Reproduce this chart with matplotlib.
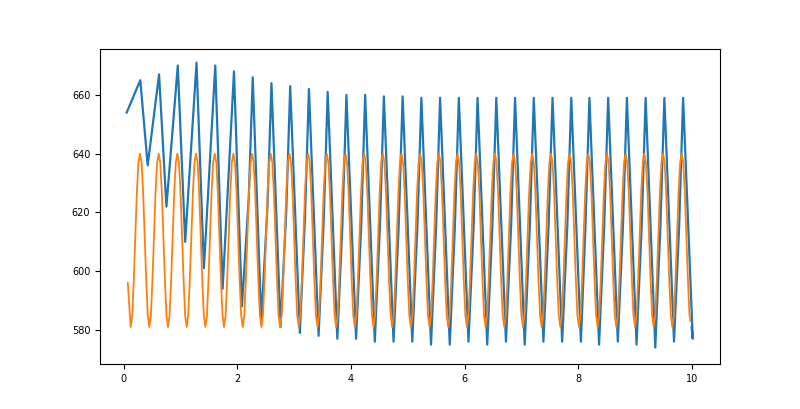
import numpy as np
import matplotlib
matplotlib.use("Agg")
import matplotlib.pyplot as plt

# per-cycle peak times
peak_t = [0.29,0.62,0.95,1.28,1.61,1.94,2.27,2.60,2.93,3.26,3.59,3.92,4.25,4.58,4.91,
          5.24,5.57,5.90,6.23,6.56,6.89,7.22,7.55,7.88,8.20,8.53,8.86,9.19,9.52,9.85]
blue_peak = [665,667,670,671,670,668,666,664,663,662,661,660,660,659.5,659.5,659,659,659,
             659,659,659,659,659,659,659,659,659,659,659,659]
blue_trough = [636,622,610,601,594,588,583,581,579,578,577,577,576,576,576,575,575,576,
               575,576,575,576,576,576,575,576,575,574,576,577]
blue_trough_dt = [0.13,0.13,0.13,0.13,0.13,0.14,0.15,0.16,0.17,0.17,0.17,0.17,0.17,0.17,0.17,
                  0.17,0.17,0.17,0.17,0.17,0.17,0.17,0.17,0.17,0.17,0.17,0.17,0.17,0.17,0.17]
# blue value on the rise shortly before each peak (None where the rise is straight)
blue_rise = [None,None,None,None,None,None,625,622,620,618,617,616,615,615,615,
             615,615,615,615,615,615,615,615,615,615,615,615,615,615,615]
blue_start = (0.05, 654)
blue_end = (10.0, 581)

orange_cycle = [581,585,597,612,627,637,640,637,627,612,597,585]
orange_start = (0.07, 596)
orange_first_trough = 0.12
orange_period = 0.329
orange_end = (9.98, 583)

bt = [blue_start[0]]; bv = [blue_start[1]]
for p, pv, rv, tv, dt in zip(peak_t, blue_peak, blue_rise, blue_trough, blue_trough_dt):
    if rv is not None:
        bt.append(p - 0.07); bv.append(rv)
    bt += [p, p + dt]; bv += [pv, tv]
bt.append(blue_end[0]); bv.append(blue_end[1])

ov = [orange_start[1]]
ot = [orange_start[0]]
n = len(orange_cycle)
for k in range(len(peak_t)):
    for j, v in enumerate(orange_cycle):
        ot.append(orange_first_trough + orange_period * (k + j / n)); ov.append(v)
ot.append(orange_end[0]); ov.append(orange_end[1])

fig, ax = plt.subplots(figsize=(8, 4.09), dpi=100)
ax.plot(bt, bv, color="#1f77b4", lw=1.6)
ax.plot(ot, ov, color="#ff7f0e", lw=1.3)
ax.set_xlim(-0.42, 10.5)
ax.set_ylim(568.4, 675.6)
ax.set_xticks([0, 2, 4, 6, 8, 10])
ax.set_yticks([580, 600, 620, 640, 660])
ax.tick_params(labelsize=7)
fig.savefig("out.png", dpi=100)
